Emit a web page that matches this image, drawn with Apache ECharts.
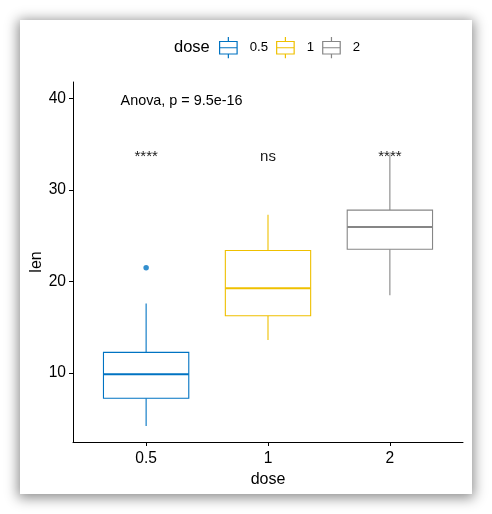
<!DOCTYPE html>
<html>
<head>
<meta charset="utf-8">
<script src="https://cdn.jsdelivr.net/npm/echarts@6/dist/echarts.min.js"></script>
<style>
  html, body { margin: 0; padding: 0; background: #ffffff; }
  #card { position: absolute; left: 20px; top: 20px; width: 452px; height: 474px; background: #fff;
          box-shadow: 0 2px 12px 2px rgba(0,0,0,0.45); }
  #chart { position: absolute; left: 0; top: 0; width: 492px; height: 514px; }
</style>
</head>
<body>
<div id="card"></div>
<div id="chart"></div>
<script>
// ---- data (ToothGrowth: len by dose) ----
const doses = ['0.5', '1', '2'];
const lenMin = [4.2, 13.6, 18.5];
const lenQ1 = [7.225, 16.25, 23.525];
const lenMedian = [9.85, 19.25, 25.95];
const lenQ3 = [12.25, 23.375, 27.8];
const lenMax = [17.6, 27.3, 33.9];
const outlierDose = ['0.5'];
const outlierLen = [21.5];
const yTicks = [10, 20, 30, 40];
const sigLabels = ['****', 'ns', '****'];
const anovaLabel = 'Anova, p = 9.5e-16';

const colors = ['#0073C2', '#EFC000', '#868686'];
const FONT = '"Liberation Sans", Arial, Helvetica, sans-serif';

const chart = echarts.init(document.getElementById('chart'), null, { renderer: 'canvas' });

const boxSeries = doses.map((d, i) => ({
  type: 'custom',
  name: d,
  silent: true,
  itemStyle: { color: colors[i] },
  dimensions: ['x', 'min', 'q1', 'median', 'q3', 'max'],
  encode: { x: 0, y: [1, 2, 3, 4, 5] },
  data: [[i, lenMin[i], lenQ1[i], lenMedian[i], lenQ3[i], lenMax[i]]],
  renderItem: function (params, api) {
    const x = api.value(0);
    const lo = api.coord([x, api.value(1)]);
    const q1 = api.coord([x, api.value(2)]);
    const md = api.coord([x, api.value(3)]);
    const q3 = api.coord([x, api.value(4)]);
    const hi = api.coord([x, api.value(5)]);
    const hw = api.size([0.7, 0])[0] / 2;
    const c = colors[i];
    return {
      type: 'group',
      children: [
        { type: 'line', shape: { x1: lo[0], y1: lo[1], x2: q1[0], y2: q1[1] }, style: { stroke: c, lineWidth: 1.1 } },
        { type: 'line', shape: { x1: q3[0], y1: q3[1], x2: hi[0], y2: hi[1] }, style: { stroke: c, lineWidth: 1.1 } },
        { type: 'rect', shape: { x: md[0] - hw, y: q3[1], width: hw * 2, height: q1[1] - q3[1] }, style: { fill: '#fff', stroke: c, lineWidth: 1.1 } },
        { type: 'line', shape: { x1: md[0] - hw, y1: md[1], x2: md[0] + hw, y2: md[1] }, style: { stroke: c, lineWidth: 2.1 } }
      ]
    };
  }
}));

const outlierSeries = {
  type: 'scatter',
  name: '0.5',
  silent: true,
  symbol: 'circle',
  symbolSize: 5.5,
  itemStyle: { color: colors[0] },
  data: outlierDose.map((d, k) => [doses.indexOf(d), outlierLen[k]])
};

const sigSeries = {
  type: 'custom',
  name: 'sig',
  silent: true,
  data: sigLabels.map((s, i) => [i, 33.6]),
  renderItem: function (params, api) {
    const p = api.coord([api.value(0), api.value(1)]);
    return {
      type: 'text',
      style: { x: p[0], y: p[1], text: sigLabels[params.dataIndex], fill: '#1a1a1a',
               font: '15px ' + FONT, textAlign: 'center', textVerticalAlign: 'middle' }
    };
  }
};

const anovaSeries = {
  type: 'custom',
  name: 'anova',
  silent: true,
  data: [[-0.21, 39.75]],
  renderItem: function (params, api) {
    const p = api.coord([api.value(0), api.value(1)]);
    return {
      type: 'text',
      style: { x: p[0], y: p[1], text: anovaLabel, fill: '#000',
               font: '14.4px ' + FONT, textAlign: 'left', textVerticalAlign: 'middle' }
    };
  }
};

const iconPath = 'path://M7.5,0L7.5,3.5M0.5,3.5L14.5,3.5L14.5,13.5L0.5,13.5ZM0.5,8.5L14.5,8.5M7.5,13.5L7.5,17';

const option = {
  animation: false,
  backgroundColor: 'transparent',
  textStyle: { fontFamily: FONT },
  title: {
    text: 'dose',
    left: 174,
    top: 39,
    padding: 0,
    textStyle: { fontSize: 16.5, fontWeight: 'normal', color: '#000', fontFamily: FONT }
  },
  legend: {
    left: 219,
    top: 36.5,
    padding: 0,
    itemWidth: 18.75,
    itemHeight: 21.25,
    itemGap: 8,
    selectedMode: false,
    textStyle: { fontSize: 13.2, color: '#000', fontFamily: FONT, padding: [0, 0, 0, 7] },
    data: doses.map((d, i) => ({
      name: d,
      icon: iconPath,
      itemStyle: { color: 'transparent', borderColor: colors[i], borderWidth: 1.2 }
    }))
  },
  grid: { left: 73, right: 29, top: 82, bottom: 72, containLabel: false },
  xAxis: {
    type: 'value',
    min: -0.6,
    max: 2.6,
    name: 'dose',
    nameLocation: 'middle',
    nameGap: 30,
    nameMoveOverlap: false,
    nameTextStyle: { fontSize: 16, color: '#000', fontFamily: FONT },
    axisLine: { show: true, onZero: false, lineStyle: { color: '#000', width: 1 } },
    axisTick: { show: true, length: 4, customValues: [0, 1, 2], lineStyle: { color: '#000' } },
    axisLabel: { customValues: [0, 1, 2], formatter: v => doses[Math.round(v)], fontSize: 15.6, color: '#000', margin: 9, fontFamily: FONT },
    splitLine: { show: false }
  },
  yAxis: {
    type: 'value',
    min: 2.45,
    max: 41.8,
    name: 'len',
    nameLocation: 'middle',
    nameGap: 28,
    nameMoveOverlap: false,
    nameTextStyle: { fontSize: 16, color: '#000', fontFamily: FONT },
    axisLine: { show: true, onZero: false, lineStyle: { color: '#000', width: 1 } },
    axisTick: { show: true, length: 4, customValues: yTicks, lineStyle: { color: '#000' } },
    axisLabel: { customValues: yTicks, fontSize: 15.6, color: '#000', margin: 7, fontFamily: FONT },
    splitLine: { show: false }
  },
  series: [...boxSeries, outlierSeries, sigSeries, anovaSeries]
};

chart.setOption(option);
</script>
</body>
</html>
